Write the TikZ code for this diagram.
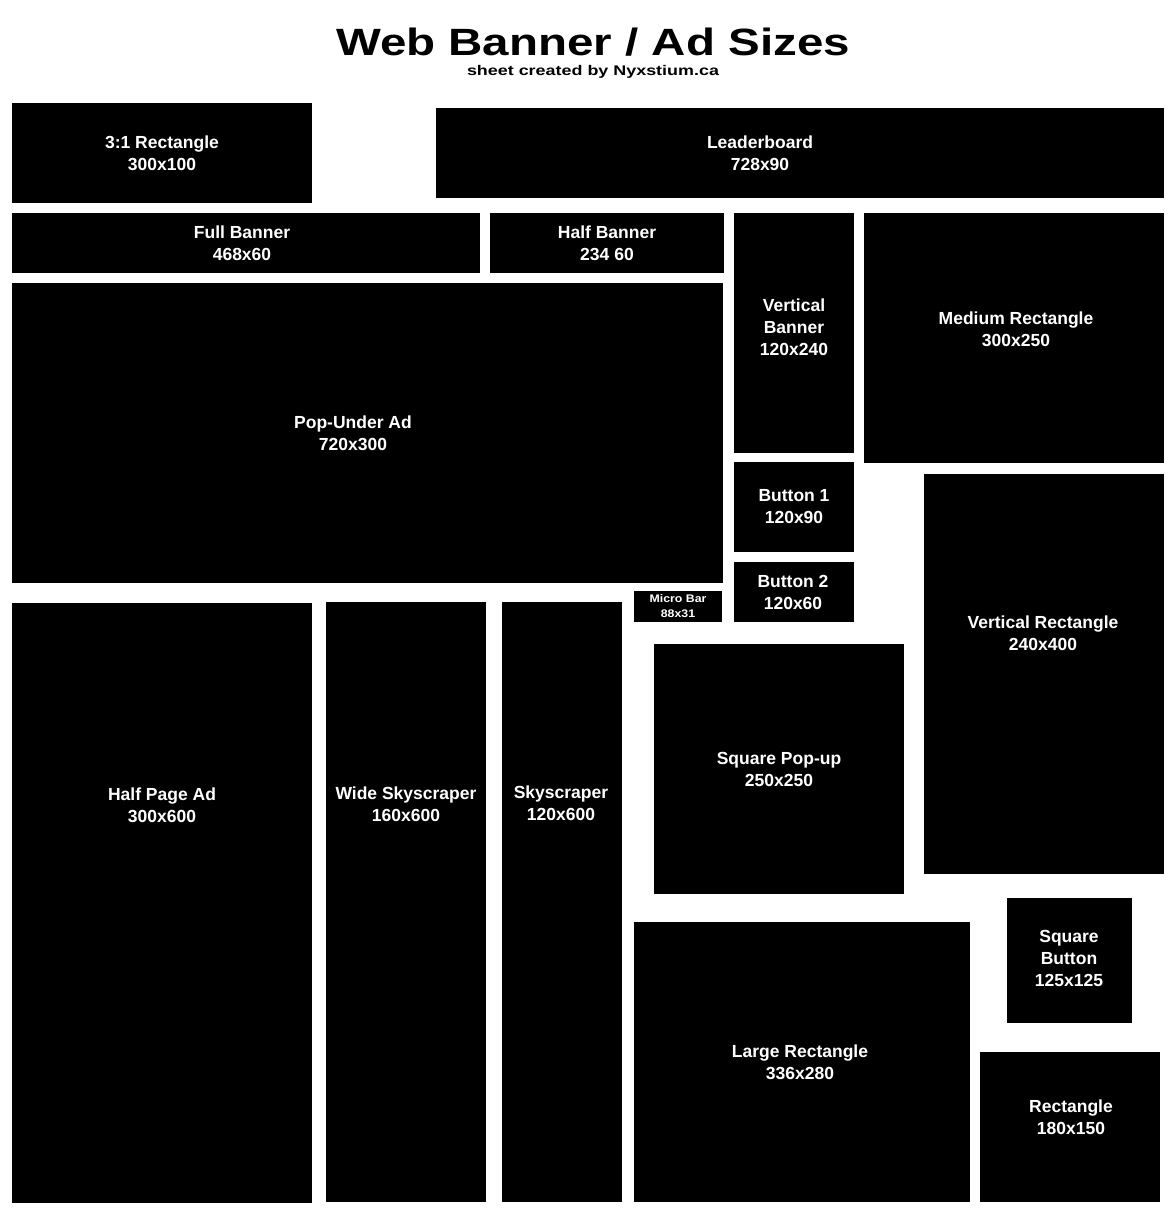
\documentclass[tikz,border=0pt]{standalone}
\usepackage{fontspec}
\setmainfont{Liberation Sans}
\begin{document}
\begin{tikzpicture}[x=1pt,y=-1pt,
  ad/.style={text=white,font=\bfseries\fontsize{17.5}{22}\selectfont,align=center,inner sep=0pt}]
\useasboundingbox[fill=white] (0,0) rectangle (1174,1223);
\newcommand\adbox[8]{\path[fill=black] (#2,#3) rectangle (#4,#5);
  \node[ad] (#1) at (#6,#7) {#8};}
\node[font=\bfseries\fontsize{38}{42}\selectfont,xscale=1.25] (title) at (593,42) {Web Banner / Ad Sizes};
\node[font=\bfseries\fontsize{14}{16}\selectfont,xscale=1.28] (sub) at (593,72) {sheet created by Nyxstium.ca};
\adbox{r31}{12}{103}{312}{203}{162}{153}{3:1 Rectangle\\300x100}
\adbox{lb}{436}{108}{1164}{198}{760}{153}{Leaderboard\\728x90}
\adbox{fb}{12}{213}{480}{273}{242}{243}{Full Banner\\468x60}
\adbox{hb}{490}{213}{724}{273}{607}{243}{Half Banner\\234 60}
\adbox{vb}{734}{213}{854}{453}{794}{327}{Vertical\\Banner\\120x240}
\adbox{mr}{864}{213}{1164}{463}{1016}{329}{Medium Rectangle\\300x250}
\adbox{pu}{12}{283}{723}{583}{353}{433}{Pop-Under Ad\\720x300}
\adbox{b1}{734}{462}{854}{552}{794}{507}{Button 1\\120x90}
\adbox{b2}{734}{562}{854}{622}{793}{592}{Button 2\\120x60}
\path[fill=black] (634,591) rectangle (722,622);
\node[ad,font=\bfseries\fontsize{11}{15}\selectfont,xscale=1.12] (mb) at (678,606.5) {Micro Bar\\88x31};
\adbox{vr}{924}{474}{1164}{874}{1043}{633}{Vertical Rectangle\\240x400}
\adbox{hp}{12}{603}{312}{1203}{162}{805}{Half Page Ad\\300x600}
\adbox{ws}{326}{602}{486}{1202}{406}{804}{Wide Skyscraper\\160x600}
\adbox{sk}{502}{602}{622}{1202}{561}{803}{Skyscraper\\120x600}
\adbox{sp}{654}{644}{904}{894}{779}{769}{Square Pop-up\\250x250}
\adbox{lr}{634}{922}{970}{1202}{800}{1062}{Large Rectangle\\336x280}
\adbox{sb}{1007}{898}{1132}{1023}{1069}{958}{Square\\Button\\125x125}
\adbox{re}{980}{1052}{1160}{1202}{1071}{1117}{Rectangle\\180x150}
\end{tikzpicture}
\end{document}
